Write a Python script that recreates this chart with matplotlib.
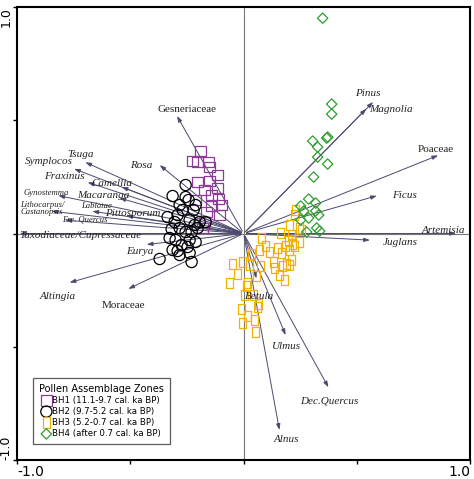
import matplotlib
matplotlib.use("Agg")
import matplotlib.pyplot as plt
from matplotlib.path import Path
import numpy as np

S = 226.5
def px(pts):
    a = np.array(pts, float)
    return (a[:, 0] - 244) / S, (233.5 - a[:, 1]) / S

species = ["Gesneriaceae", "Tsuga", "Symplocos", "Fraxinus", "Camellia", "Macaranga", "Gynostemma",
           "Lithocarpus/\nCastanopsis", "Labiatae", "Pittosporum", "Ere. Quercus", "Taxodiaceae/Cupressaceae",
           "Eurya", "Altingia", "Moraceae", "Rosa", "Pinus", "Magnolia", "Poaceae", "Ficus", "Artemisia",
           "Juglans", "Betula", "Ulmus", "Dec.Quercus", "Alnus"]
tip_x = [-0.30, -0.71, -0.76, -0.70, -0.55, -0.56, -0.83, -0.86, -0.68, -0.53, -0.80, -1.00,
         -0.44, -0.78, -0.52, -0.38, 0.58, 0.55, 0.87, 0.60, 0.95, 0.57, 0.06, 0.19, 0.38, 0.16]
tip_y = [0.53, 0.32, 0.29, 0.23, 0.21, 0.16, 0.17, 0.10, 0.10, 0.08, 0.06, 0.00,
         -0.05, -0.22, -0.25, 0.31, 0.59, 0.56, 0.35, 0.17, 0.00, -0.03, -0.21, -0.46, -0.69, -0.88]
lab_x = [-0.25, -0.72, -0.86, -0.79, -0.58, -0.62, -0.87, -0.89, -0.65, -0.49, -0.70, -0.72,
         -0.46, -0.82, -0.53, -0.45, 0.55, 0.65, 0.85, 0.71, 0.88, 0.69, 0.07, 0.19, 0.38, 0.19]
lab_y = [0.55, 0.35, 0.32, 0.25, 0.22, 0.17, 0.18, 0.11, 0.12, 0.09, 0.06, -0.01,
         -0.08, -0.28, -0.32, 0.30, 0.62, 0.55, 0.37, 0.17, 0.015, -0.04, -0.28, -0.50, -0.74, -0.91]
italic = [False] + [True] * 13 + [False, True, True, True, False] + [True] * 7
small = ["Gynostemma", "Lithocarpus/\nCastanopsis", "Ere. Quercus", "Labiatae"]

bh1 = [(201,151),(193,161),(198,162),(209,162),(210,167),(218,175),(198,182),(210,181),(205,190),(218,188),
       (196,200),(212,195),(219,199),(212,206),(220,215),(207,212),(203,228),(205,222),(222,205)]
bh2 = [(186,185),(173,196),(186,197),(189,200),(180,205),(196,205),(194,210),(178,215),(190,220),(200,222),
       (206,222),(180,228),(186,232),(195,225),(172,229),(176,240),(190,240),(173,250),(180,255),(190,253),
       (192,262),(160,259),(178,251),(198,228),(183,210),(192,232),(168,217),(182,245),(188,247),(175,222),
       (196,242),(170,238)]
bh3 = [(233,264),(230,283),(252,254),(248,283),(257,276),(261,266),(247,286),(242,309),(248,316),(255,320),
       (256,332),(243,323),(258,307),(274,262),(270,252),(278,248),(283,266),(287,264),(280,275),(285,280),
       (290,265),(292,260),(275,268),(282,253),(289,241),(300,242),(295,246),(300,228),(292,235),(286,246),
       (290,250),(302,230),(290,225),(295,215),(296,210),(293,244),(281,233),(266,246),(262,238),(260,250),
       (250,265),(238,274),(243,262),(254,295),(259,304),(245,295)]
bh4 = [(323,18),(332,104),(332,114),(313,141),(327,138),(318,147),(328,137),(318,157),(328,164),(314,177),
       (309,199),(316,203),(301,206),(316,211),(304,211),(309,218),(319,215),(301,220),(317,228),(307,232),(320,231)]

zones = ["BH1 (11.1-9.7 cal. ka BP)", "BH2 (9.7-5.2 cal. ka BP)", "BH3 (5.2-0.7 cal. ka BP)", "BH4 (after 0.7 cal. ka BP)"]

fig = plt.figure(figsize=(4.74, 4.79), dpi=100)
ax = fig.add_axes([0.036, 0.040, 0.956, 0.945])
ax.set_xlim(-1, 1)
ax.set_ylim(-1, 1)
ax.axhline(0, color="#777777", lw=0.8, zorder=1)
ax.axvline(0, color="#777777", lw=0.8, zorder=1)

acol = "#4a4a6e"
for n, tx, ty, lx, ly, it in zip(species, tip_x, tip_y, lab_x, lab_y, italic):
    ax.annotate("", xy=(tx, ty), xytext=(0, 0),
                arrowprops=dict(arrowstyle="-|>,head_length=0.35,head_width=0.12", color=acol, lw=0.7), zorder=2)
    fs = 6.2 if n in small else 8
    ax.text(lx, ly, n, fontsize=fs, family="Liberation Serif", style="italic" if it else "normal",
            ha="center", va="center", color="#222222", zorder=5, linespacing=0.9)

rect = Path([(-0.3, -0.5), (0.3, -0.5), (0.3, 0.5), (-0.3, 0.5), (-0.3, -0.5)],
            [Path.MOVETO, Path.LINETO, Path.LINETO, Path.LINETO, Path.CLOSEPOLY])
x, y = px(bh1)
ax.scatter(x, y, marker="s", s=60, facecolors="none", edgecolors="#8e3a9a", lw=0.9, zorder=3, label=zones[0])
x, y = px(bh2)
ax.scatter(x, y, marker="o", s=65, facecolors="none", edgecolors="black", lw=0.9, zorder=3, label=zones[1])
x, y = px(bh3)
ax.scatter(x, y, marker=rect, s=60, facecolors="none", edgecolors="#f0b400", lw=0.9, zorder=3, label=zones[2])
x, y = px(bh4)
ax.scatter(x, y, marker="D", s=28, facecolors="none", edgecolors="#2e9e2e", lw=0.9, zorder=3, label=zones[3])

leg = ax.legend(loc="lower left", bbox_to_anchor=(0.025, 0.025), title="Pollen Assemblage Zones",
                fontsize=6.2, title_fontsize=7, frameon=True, fancybox=False, edgecolor="#333333",
                handletextpad=0.1, labelspacing=0.25, borderpad=0.7, handlelength=1.2)
leg.get_frame().set_linewidth(0.9)

for s in ax.spines.values():
    s.set_linewidth(1.5)
ax.set_xticks([-1, -0.5, 0, 0.5, 1])
ax.set_xticklabels(["-1.0", "", "", "", "1.0"], fontsize=10)
ax.set_yticks([-1, -0.5, 0, 0.5, 1])
ax.set_yticklabels(["-1.0", "", "", "", "1.0"], fontsize=9, rotation=90, va="center")
ax.tick_params(length=3, width=1, pad=1)
ax.tick_params(axis="y", pad=0.5)
xl = ax.get_xticklabels()
xl[0].set_ha("left"); xl[-1].set_ha("right")
yl = ax.get_yticklabels()
yl[0].set_va("bottom"); yl[-1].set_va("top")
fig.savefig("out.png", dpi=100)
